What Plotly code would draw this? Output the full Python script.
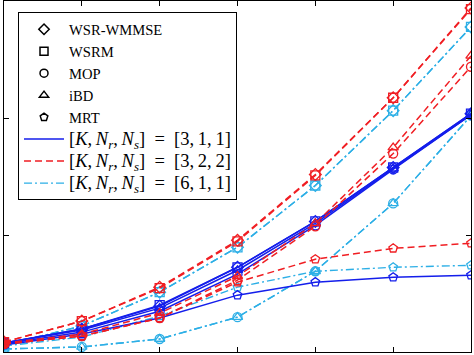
import plotly.graph_objects as go

# x positions (7 points)
x_vals = [0, 5, 10, 15, 20, 25, 30]

# [K,Nr,Ns] = [3,1,1]
b_wmmse = [0.77, 1.96, 3.92, 7.24, 11.16, 15.77, 20.37]
b_wsrm  = [0.77, 1.96, 4.00, 7.24, 11.16, 15.77, 20.37]
b_ibd   = [0.77, 1.88, 3.75, 6.99, 10.99, 15.68, 20.28]
b_mop   = [0.68, 1.70, 3.49, 6.65, 10.82, 15.60, 20.28]
b_mrt   = [0.60, 1.53, 2.90, 4.86, 5.97, 6.39, 6.56]

# [K,Nr,Ns] = [3,2,2]
r_wmmse = [0.85, 2.64, 5.54, 9.55, 15.17, 21.73, 29.40]
r_wsrm  = [0.85, 2.64, 5.46, 9.46, 15.09, 21.73, 29.31]
r_ibd   = [0.77, 1.53, 3.32, 6.48, 10.99, 17.47, 25.31]
r_mop   = [0.68, 1.36, 2.90, 6.14, 10.74, 16.96, 24.38]
r_mrt   = [0.68, 1.36, 2.90, 5.97, 7.93, 8.86, 9.29]

# [K,Nr,Ns] = [6,1,1]
c_wmmse = [0.60, 2.22, 5.11, 8.95, 14.23, 20.63, 27.78]
c_wsrm  = [0.60, 2.22, 5.11, 8.95, 14.23, 20.63, 27.78]
c_ibd   = [0.26, 0.43, 1.11, 2.98, 6.90, 12.70, 20.20]
c_mop   = [0.26, 0.43, 1.11, 2.98, 6.90, 12.70, 20.20]
c_mrt   = [0.51, 1.28, 3.07, 5.54, 6.90, 7.24, 7.41]

alg_names = ["WSR-WMMSE", "WSRM", "MOP", "iBD", "MRT"]
alg_symbols = ["diamond-open", "square-open", "circle-open", "triangle-up-open", "pentagon-open"]
cfg_values = ["[3,&#8201;1,&#8201;1]", "[3,&#8201;2,&#8201;2]", "[6,&#8201;1,&#8201;1]"]
cfg_labels = [
    '<span style="font-size:18.5px">[<i>K</i>,&#8201;<i>N</i><sub><i>r</i></sub>,&#8201;<i>N</i><sub><i>s</i></sub>]&nbsp;&nbsp;=&nbsp;&nbsp;'
    + v + "</span>"
    for v in cfg_values
]

BLUE = "rgb(20,30,235)"
RED = "rgb(240,30,35)"
CYAN = "rgb(45,175,230)"

cfgs = [
    (CYAN, "8px,3px,2px,3px", 1.4, {"WSR-WMMSE": c_wmmse, "WSRM": c_wsrm, "MOP": c_mop, "iBD": c_ibd, "MRT": c_mrt}),
    (BLUE, "solid", 1.5, {"WSR-WMMSE": b_wmmse, "WSRM": b_wsrm, "MOP": b_mop, "iBD": b_ibd, "MRT": b_mrt}),
    (RED, "7px,4px", 1.5, {"WSR-WMMSE": r_wmmse, "WSRM": r_wsrm, "MOP": r_mop, "iBD": r_ibd, "MRT": r_mrt}),
]

fig = go.Figure()

for color, dash, lw, data in cfgs:
    for name, sym in zip(alg_names, alg_symbols):
        fig.add_trace(go.Scatter(
            x=x_vals, y=data[name], mode="lines+markers",
            line=dict(color=color, width=lw, dash=dash),
            marker=dict(symbol=sym, size=9, color=color, line=dict(width=1.3, color=color)),
            showlegend=False,
        ))

# legend entries
for name, sym in zip(alg_names, alg_symbols):
    fig.add_trace(go.Scatter(
        x=[None], y=[None], mode="markers", name=name,
        marker=dict(symbol=sym, size=8, color="black", line=dict(width=1.5, color="black")),
    ))
for (color, dash, lw, _), lab in zip([cfgs[1], cfgs[2], cfgs[0]], cfg_labels):
    fig.add_trace(go.Scatter(
        x=[None], y=[None], mode="lines", name=lab,
        line=dict(color=color, width=lw, dash=dash),
    ))

fig.update_layout(
    width=474, height=355,
    margin=dict(l=4, r=3, t=1, b=3),
    paper_bgcolor="white", plot_bgcolor="white",
    font=dict(family="Liberation Serif", size=15, color="black"),
    legend=dict(
        x=0.030, y=0.968, xanchor="left", yanchor="top",
        bgcolor="white", bordercolor="black", borderwidth=1,
        itemwidth=40, font=dict(family="Liberation Serif", size=14.6, color="black"),
    ),
    showlegend=True,
)
fig.update_xaxes(range=[0, 30], showline=True, linecolor="black", linewidth=1, mirror="ticks",
                 ticks="inside", ticklen=5, tickcolor="black", tickvals=x_vals,
                 showticklabels=False, showgrid=False, zeroline=False)
fig.update_yaxes(range=[0, 30], showline=True, linecolor="black", linewidth=1, mirror="ticks",
                 ticks="inside", ticklen=5, tickcolor="black", tickvals=[0, 10, 20, 30],
                 showticklabels=False, showgrid=False, zeroline=False)

fig.write_html("out.html", config={"displayModeBar": False},
               post_script="document.body.style.margin='0px';document.body.style.overflow='hidden';")
